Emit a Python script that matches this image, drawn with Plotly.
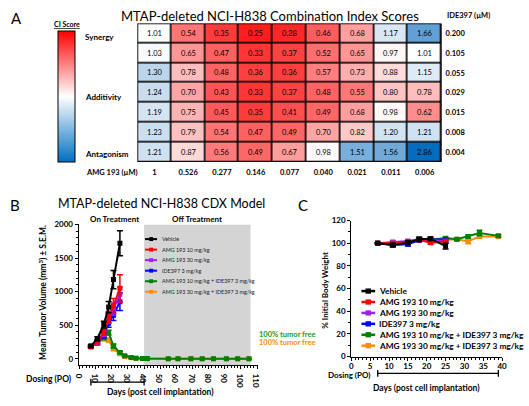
import plotly.graph_objects as go

W, H = 529, 406
def px(x): return x / W
def py(y): return 1 - y / H

FONT = "Lato"

# ---------------- Panel A data ----------------
amg_conc = ["1", "0.526", "0.277", "0.146", "0.077", "0.040", "0.021", "0.011", "0.006"]
ide_conc = ["0.200", "0.105", "0.055", "0.029", "0.015", "0.008", "0.004"]
ci_scores = [
    [1.01, 0.54, 0.35, 0.25, 0.28, 0.46, 0.68, 1.17, 1.66],
    [1.03, 0.65, 0.47, 0.33, 0.37, 0.52, 0.65, 0.97, 1.01],
    [1.30, 0.78, 0.48, 0.36, 0.36, 0.57, 0.73, 0.88, 1.15],
    [1.24, 0.70, 0.43, 0.33, 0.37, 0.48, 0.55, 0.80, 0.78],
    [1.19, 0.75, 0.45, 0.35, 0.41, 0.49, 0.68, 0.98, 0.62],
    [1.23, 0.79, 0.54, 0.47, 0.49, 0.70, 0.82, 1.20, 1.21],
    [1.21, 0.87, 0.56, 0.49, 0.67, 0.98, 1.51, 1.56, 2.86],
]
ci_labels = ["Synergy", "Additivity", "Antagonism"]

# ---------------- Groups ----------------
group_names = ["Vehicle", "AMG 193 10 mg/kg", "AMG 193 30 mg/kg", "IDE397 3 mg/kg",
               "AMG 193 10 mg/kg + IDE397 3 mg/kg", "AMG 193 30 mg/kg + IDE397 3 mg/kg"]
group_colors = ["#000000", "#ff0000", "#a020f0", "#0000ff", "#008000", "#ff8c00"]

# ---------------- Panel B data (tumor volume) ----------------
days_short = [7, 11, 15, 18, 21, 25]
days_long = [7, 11, 15, 18, 21, 25, 28, 32, 35, 39, 42, 55, 61, 69, 76, 83, 91, 98, 105]
vol_vehicle = [190, 300, 510, 770, 1180, 1720]
err_vehicle = [15, 30, 50, 85, 135, 185]
vol_amg10 = [185, 255, 400, 620, 790, 1050]
err_amg10 = [15, 25, 50, 80, 110, 200]
vol_amg30 = [180, 245, 380, 600, 740, 960]
err_amg30 = [15, 25, 45, 70, 90, 110]
vol_ide = [180, 235, 350, 530, 650, 850]
err_ide = [15, 25, 40, 60, 80, 130]
vol_combo10 = [190, 265, 320, 390, 190, 95, 45, 20, 10, 6, 4, 3, 3, 2, 2, 2, 2, 2, 2]
err_combo10 = [15, 25, 35, 35, 30, 20, 10, 6, 4, 3, 2, 2, 2, 1, 1, 1, 1, 1, 1]
vol_combo30 = [180, 250, 300, 280, 150, 75, 35, 15, 8, 4, 3, 2, 2, 2, 2, 2, 2, 2, 2]
err_combo30 = [15, 20, 30, 30, 25, 15, 8, 5, 3, 2, 2, 1, 1, 1, 1, 1, 1, 1, 1]

# ---------------- Panel C data (body weight) ----------------
bw_days_short = [7, 11, 15, 18, 21, 25]
bw_days_long = [7, 11, 15, 18, 21, 25, 28, 31, 34, 39]
bw_vehicle = [100, 98.5, 100.5, 103.5, 104, 97.5]
bwe_vehicle = [0.5, 1.5, 1.5, 1.5, 1.5, 2.5]
bw_amg10 = [100, 100, 101, 103, 100.5, 101.5]
bwe_amg10 = [0.5, 1, 1, 1.5, 1.5, 1.5]
bw_amg30 = [100, 101, 102, 103.5, 103, 102]
bwe_amg30 = [0.5, 1, 1, 1, 1, 1]
bw_ide = [100, 98.5, 99, 102.5, 103.5, 103]
bwe_ide = [0.5, 1.5, 1.5, 1, 1, 1]
bw_combo10 = [100, 100, 101, 104, 103, 104.5, 103.5, 106, 109, 106.5]
bwe_combo10 = [0.5, 1, 1, 1, 1, 1, 1, 1.5, 2.5, 1]
bw_combo30 = [100, 100, 100.5, 103, 103.5, 103, 103.5, 101.5, 106, 106]
bwe_combo30 = [0.5, 1, 1, 1, 1, 1, 1, 2, 1.5, 1]

tv_series = [
    (days_short, vol_vehicle, err_vehicle),
    (days_short, vol_amg10, err_amg10),
    (days_short, vol_amg30, err_amg30),
    (days_short, vol_ide, err_ide),
    (days_long, vol_combo10, err_combo10),
    (days_long, vol_combo30, err_combo30),
]
bw_series = [
    (bw_days_short, bw_vehicle, bwe_vehicle),
    (bw_days_short, bw_amg10, bwe_amg10),
    (bw_days_short, bw_amg30, bwe_amg30),
    (bw_days_short, bw_ide, bwe_ide),
    (bw_days_long, bw_combo10, bwe_combo10),
    (bw_days_long, bw_combo30, bwe_combo30),
]

fig = go.Figure()

# ---------------- Heatmap ----------------
ci_stops = [(0.25, "rgb(255,30,30)"), (1.0, "rgb(255,255,255)"), (1.3, "rgb(188,213,235)"),
            (1.5, "rgb(122,176,220)"), (1.7, "rgb(92,155,211)"), (2.86, "rgb(5,108,190)")]
zmin, zmax = 0.25, 2.86
heat_scale = [[(v - zmin) / (zmax - zmin), c] for v, c in ci_stops]

fig.add_trace(go.Heatmap(
    z=ci_scores, x=list(range(len(amg_conc))), y=list(range(len(ide_conc))),
    colorscale=heat_scale, zmin=zmin, zmax=zmax, showscale=False,
    xgap=1.6, ygap=1.6, texttemplate="%{z:.2f}",
    textfont=dict(family=FONT, size=7.5, color="black"),
    hoverinfo="skip", xaxis="x", yaxis="y"))

# colour key (legend bar)
fig.add_trace(go.Scatter(
    x=[0], y=[0], mode="markers", hoverinfo="skip", showlegend=False,
    marker=dict(size=1, opacity=0, color=[0], cmin=-1, cmax=1,
                colorscale=[[0, "#0070c0"], [0.5, "#ffffff"], [1, "#ff0000"]],
                showscale=True,
                colorbar=dict(x=px(54), xanchor="left", y=py(94), yanchor="middle",
                              len=134 / H, lenmode="fraction", thickness=17,
                              thicknessmode="pixels", outlinewidth=1, outlinecolor="black",
                              showticklabels=False, ticks="", xpad=0, ypad=0)),
    xaxis="x", yaxis="y"))

# ---------------- Panel B ----------------
for i in [5, 4, 3, 2, 1, 0]:
    d, v, e = tv_series[i]
    fig.add_trace(go.Scatter(
        x=d, y=v, mode="lines+markers", xaxis="x2", yaxis="y2", showlegend=False,
        line=dict(color=group_colors[i], width=2),
        marker=dict(symbol="square", size=5, color=group_colors[i]),
        error_y=dict(type="data", array=e, color=group_colors[i], thickness=1.5, width=3),
        hoverinfo="skip"))

# ---------------- Panel C ----------------
for i in [5, 4, 3, 2, 1, 0]:
    d, v, e = bw_series[i]
    fig.add_trace(go.Scatter(
        x=d, y=v, mode="lines+markers", xaxis="x3", yaxis="y3", showlegend=False,
        line=dict(color=group_colors[i], width=2),
        marker=dict(symbol="square", size=5, color=group_colors[i]),
        error_y=dict(type="data", array=e, color=group_colors[i], thickness=1.5, width=3),
        hoverinfo="skip"))

bold = dict(family=FONT, size=8, color="black", weight="bold")
axis_common = dict(showgrid=False, zeroline=False, showline=True, linecolor="black",
                   linewidth=1.3, ticks="outside", tickcolor="black", tickwidth=1.3,
                   ticklen=3, tickfont=bold)

fig.update_layout(
    width=W, height=H, margin=dict(l=0, r=0, t=0, b=0),
    paper_bgcolor="white", plot_bgcolor="white", showlegend=False,
    font=dict(family=FONT, color="black"),
    xaxis=dict(domain=[px(135), px(445)], range=[-0.5, 8.5], anchor="y",
               tickvals=list(range(len(amg_conc))), ticktext=amg_conc,
               showgrid=False, zeroline=False, showline=False, ticks="",
               tickfont=dict(family=FONT, size=7.5, color="black", weight="bold"),
               ticklabelstandoff=4),
    yaxis=dict(domain=[py(161), py(19)], range=[6.5, -0.5], anchor="x", side="right",
               tickvals=list(range(len(ide_conc))), ticktext=ide_conc,
               showgrid=False, zeroline=False, showline=False, ticks="",
               tickfont=dict(family=FONT, size=7.5, color="black", weight="bold"),
               ticklabelstandoff=3),
    xaxis2=dict(domain=[px(75.2), px(257.7)], range=[-0.5, 110.5], anchor="y2",
                tickvals=list(range(0, 111, 10)), ticklabelstandoff=-1,
                minor=dict(dtick=2, ticklen=2, tickcolor="black", ticks="outside", tickwidth=1),
                **axis_common),
    yaxis2=dict(domain=[py(369), py(225)], range=[-90, 2000], anchor="x2",
                tickvals=list(range(0, 2001, 500)),
                minor=dict(dtick=100, ticklen=2, tickcolor="black", ticks="outside", tickwidth=1),
                **axis_common),
    xaxis3=dict(domain=[px(353), px(506.7)], range=[0, 40], anchor="y3",
                tickvals=list(range(0, 41, 5)), ticklabelstandoff=-1,
                minor=dict(dtick=1, ticklen=2, tickcolor="black", ticks="outside", tickwidth=1),
                **axis_common),
    yaxis3=dict(domain=[py(360.5), py(221)], range=[0, 120], anchor="x3",
                tickvals=list(range(0, 121, 20)),
                minor=dict(dtick=10, ticklen=2, tickcolor="black", ticks="outside", tickwidth=1),
                **axis_common),
)

shapes = []
# heatmap grid background and border
shapes.append(dict(type="rect", xref="x", yref="y", x0=-0.5, x1=8.5, y0=-0.5, y1=6.5,
                   fillcolor="black", line=dict(width=0), layer="below"))
shapes.append(dict(type="rect", xref="x", yref="y", x0=-0.5, x1=8.5, y0=-0.5, y1=6.5,
                   fillcolor="rgba(0,0,0,0)", line=dict(color="black", width=1.6), layer="above"))
# off-treatment region
shapes.append(dict(type="rect", xref="x2", yref="y2", x0=40, x1=106, y0=-90, y1=2000,
                   fillcolor="#d4d4d4", line=dict(width=0), layer="below"))
# dosing brackets
for xr, x0, x1, yb in [("x2", 7, 40, 386.7), ("x3", 7, 39, 377.7)]:
    shapes.append(dict(type="line", xref=xr, yref="paper", x0=x0, x1=x1, y0=py(yb), y1=py(yb),
                       line=dict(color="black", width=1.3)))
    for xx in (x0, x1):
        shapes.append(dict(type="line", xref=xr, yref="paper", x0=xx, x1=xx,
                           y0=py(yb - 3.5), y1=py(yb + 3.5), line=dict(color="black", width=1.3)))

annotations = []
def ann(text, x, y, size=8, xanchor="center", bold_=True, color="black", angle=0):
    annotations.append(dict(text=text, x=px(x), y=py(y), xref="paper", yref="paper",
                            xanchor=xanchor, yanchor="middle", showarrow=False, textangle=angle,
                            font=dict(family=FONT, size=size, color=color,
                                      weight="bold" if bold_ else "normal")))

# manual legends
for i, name in enumerate(group_names):
    c = group_colors[i]
    # panel B legend
    yb = 240 + i * 10.8
    shapes.append(dict(type="line", xref="paper", yref="paper", x0=px(142.7), x1=px(155),
                       y0=py(yb), y1=py(yb), line=dict(color=c, width=2)))
    shapes.append(dict(type="rect", xref="paper", yref="paper", x0=px(147), x1=px(151),
                       y0=py(yb + 2), y1=py(yb - 2), fillcolor=c, line=dict(width=0)))
    ann(name, 158.3, yb, size=5.4, xanchor="left", bold_=False, color="#222222")
    # panel C legend
    yc = 293.3 + i * 11.2
    shapes.append(dict(type="line", xref="paper", yref="paper", x0=px(363.3), x1=px(377.3),
                       y0=py(yc), y1=py(yc), line=dict(color=c, width=2.5)))
    shapes.append(dict(type="rect", xref="paper", yref="paper", x0=px(367.5), x1=px(373),
                       y0=py(yc + 2.7), y1=py(yc - 2.7), fillcolor=c, line=dict(width=0)))
    ann(name, 379.3, yc, size=8.3, xanchor="left")

# Panel A text
ann("A", 12, 13, size=15, bold_=False)
ann("MTAP-deleted NCI-H838 Combination Index Scores", 270, 11, size=13, bold_=False)
ann("IDE397 (µM)", 472, 11, size=7.5)
ann("<u>CI Score</u>", 63, 19, size=7)
ann(ci_labels[0], 80, 33, size=8, xanchor="left")
ann(ci_labels[1], 80, 94, size=8, xanchor="left")
ann(ci_labels[2], 80, 153, size=8, xanchor="left")
ann("AMG 193 (µM)", 109, 172, size=7.5)

# Panel B text
ann("B", 10, 205, size=15, bold_=False)
ann("MTAP-deleted NCI-H838 CDX Model", 160, 204, size=12.5, bold_=False)
ann("On Treatment", 112, 219, size=8)
ann("Off Treatment", 196, 219, size=8)
ann("Mean Tumor Volume (mm<sup>3</sup>) ± S.E.M.", 38, 295, size=8.5, angle=-90)
ann("100% tumor free", 257, 337.5, size=7.5, xanchor="left", color="#1a9a1a")
ann("100% tumor free", 257, 346, size=7.5, xanchor="left", color="#ff8c00")
ann("Dosing (PO)", 45, 383, size=8.5)
ann("Days (post cell implantation)", 158, 397, size=8.5)

# Panel C text
ann("C", 304, 205, size=15, bold_=False)
ann("% Initial Body Weight", 326, 292, size=8, angle=-90)
ann("Dosing (PO)", 351, 379, size=8)
ann("Days (post cell implantation)", 430, 392.3, size=8.5)

fig.update_layout(shapes=shapes, annotations=annotations)
fig.write_html("out.html", config={"displayModeBar": False},
               post_script="document.body.style.margin='0px';document.body.style.padding='0px';")
